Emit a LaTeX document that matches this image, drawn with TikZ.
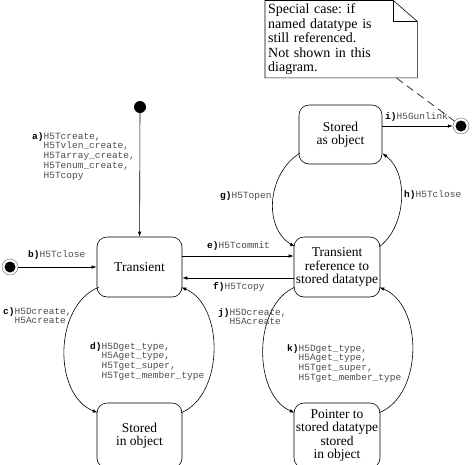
\documentclass[tikz,border=0pt]{standalone}
\usepackage{fontspec}
\setmainfont{Liberation Serif}
\setmonofont{Liberation Mono}
\usetikzlibrary{arrows.meta}
\frenchspacing

\tikzstyle{statebox} = [rectangle, draw, rounded corners=10pt, align=center
                       , inner sep=0pt, line width=0.6pt
                       , font=\fontsize{13.5}{13.5}\selectfont]
\tikzstyle{call}     = [align=left, inner sep=0pt, text=black!70
                       , font=\ttfamily\fontsize{9.5}{9.75}\selectfont]
\tikzstyle{trans}    = [-{Latex[length=5pt,width=3.5pt]}, line width=0.6pt]
\tikzstyle{startdot} = [circle, fill=black, inner sep=0pt, minimum size=12pt]
\tikzstyle{enddot}   = [circle, draw=black!60, inner sep=0pt, minimum size=16pt
                       , path picture={\fill[black] (path picture bounding box.center) circle (5.5pt);}]

\newcommand\calltag[1]{\textcolor{black}{\bfseries #1}}

\begin{document}
\begin{tikzpicture}[x=1pt, y=-1pt]
\useasboundingbox (0,0) rectangle (474,464);

%% State nodes
\node [startdot] (Start) at (140,107) {};
\node [statebox, minimum width=85pt, minimum height=60pt] (Transient) at (139.5,267) {Transient};
\node [statebox, minimum width=85pt, minimum height=65pt] (StoredInObj) at (139.5,435.5) {Stored\\in object};
\node [statebox, minimum width=86pt, minimum height=60pt] (TransRef) at (337,267) {Transient\\reference to\\stored datatype};
\node [statebox, minimum width=86pt, minimum height=65pt] (PtrInObj) at (337,435.5) {Pointer to\\stored datatype\\stored\\in object};
\node [statebox, minimum width=83pt, minimum height=59pt] (StoredAsObj) at (340.5,134.5) {Stored\\as object};
\node [enddot] (EndLeft) at (10,267) {};
\node [enddot] (EndTop) at (461,126) {};

%% Note
\node [anchor=north west, inner sep=3pt, text width=146pt, minimum height=77pt, align=left
      , font=\fontsize{14}{14.5}\selectfont] (Note) at (265,0.5)
      {Special case: if\\named datatype is\\still referenced.\\Not shown in this\\diagram.};
\draw [line width=0.6pt] (Note.north west) -- ([xshift=-24pt]Note.north east)
      -- ([yshift=-21pt]Note.north east) -- (Note.south east) -- (Note.south west) -- cycle;
\draw [line width=0.6pt] ([xshift=-24pt]Note.north east) -- ([xshift=-24pt,yshift=-21pt]Note.north east)
      -- ([yshift=-21pt]Note.north east);
\draw [line width=0.6pt, dash pattern=on 8pt off 5pt] ([xshift=-21pt]Note.south east) -- (EndTop);

%% Transitions
\draw [trans] (Start) -- (Transient);
\draw [trans] (EndLeft) -- (Transient);
\draw [trans] ([yshift=11pt]Transient.east) -- ([yshift=11pt]TransRef.west);
\draw [trans] ([yshift=-11pt]TransRef.west) -- ([yshift=-11pt]Transient.east);
\draw [trans] ([xshift=2pt,yshift=10pt]Transient.south west)
      .. controls +(-45,18) and +(-45,-18) .. ([xshift=1pt,yshift=-10pt]StoredInObj.north west);
\draw [trans] ([xshift=-1pt,yshift=-10pt]StoredInObj.north east)
      .. controls +(43,-18) and +(43,18) .. ([xshift=-1pt,yshift=10pt]Transient.south east);
\draw [trans] ([xshift=1pt,yshift=10pt]TransRef.south west)
      .. controls +(-42,18) and +(-42,-18) .. ([xshift=1pt,yshift=-10pt]PtrInObj.north west);
\draw [trans] ([xshift=-1pt,yshift=-10pt]PtrInObj.north east)
      .. controls +(44,-18) and +(44,18) .. ([xshift=-1pt,yshift=10pt]TransRef.south east);
\draw [trans] ([xshift=1pt,yshift=11pt]StoredAsObj.south west)
      .. controls +(-32,20) and +(-32,-20) .. ([xshift=1pt,yshift=-10pt]TransRef.north west);
\draw [trans] ([xshift=-1pt,yshift=-10pt]TransRef.north east)
      .. controls +(27,-20) and +(27,20) .. ([yshift=11pt]StoredAsObj.south east);
\draw [trans] ([yshift=8.5pt]StoredAsObj.east) -- (EndTop);

%% Labels
\node [call, anchor=north west] (LabelA) at (32,132)
      {\calltag{a)}H5Tcreate,\\\phantom{a)}H5Tvlen\_create,\\\phantom{a)}H5Tarray\_create,\\\phantom{a)}H5Tenum\_create,\\\phantom{a)}H5Tcopy};
\node [call, anchor=north west] (LabelB) at (28,250) {\calltag{b)}H5Tclose};
\node [call, anchor=north west] (LabelC) at (3,307) {\calltag{c)}H5Dcreate,\\\phantom{c)}H5Acreate};
\node [call, anchor=north west] (LabelD) at (90,342)
      {\calltag{d)}H5Dget\_type,\\\phantom{d)}H5Aget\_type,\\\phantom{d)}H5Tget\_super,\\\phantom{d)}H5Tget\_member\_type};
\node [call, anchor=north west] (LabelE) at (207,241) {\calltag{e)}H5Tcommit};
\node [call, anchor=north west] (LabelF) at (213,282) {\calltag{f)}H5Tcopy};
\node [call, anchor=north west] (LabelG) at (220,191) {\calltag{g)}H5Topen};
\node [call, anchor=north west] (LabelH) at (404,190) {\calltag{h)}H5Tclose};
\node [call, anchor=north west] (LabelI) at (385,112) {\calltag{i)}H5Gunlink};
\node [call, anchor=north west] (LabelJ) at (218,308) {\calltag{j)}H5Dcreate,\\\phantom{j)}H5Acreate};
\node [call, anchor=north west] (LabelK) at (287,344)
      {\calltag{k)}H5Dget\_type,\\\phantom{k)}H5Aget\_type,\\\phantom{k)}H5Tget\_super,\\\phantom{k)}H5Tget\_member\_type};

\end{tikzpicture}
\end{document}
